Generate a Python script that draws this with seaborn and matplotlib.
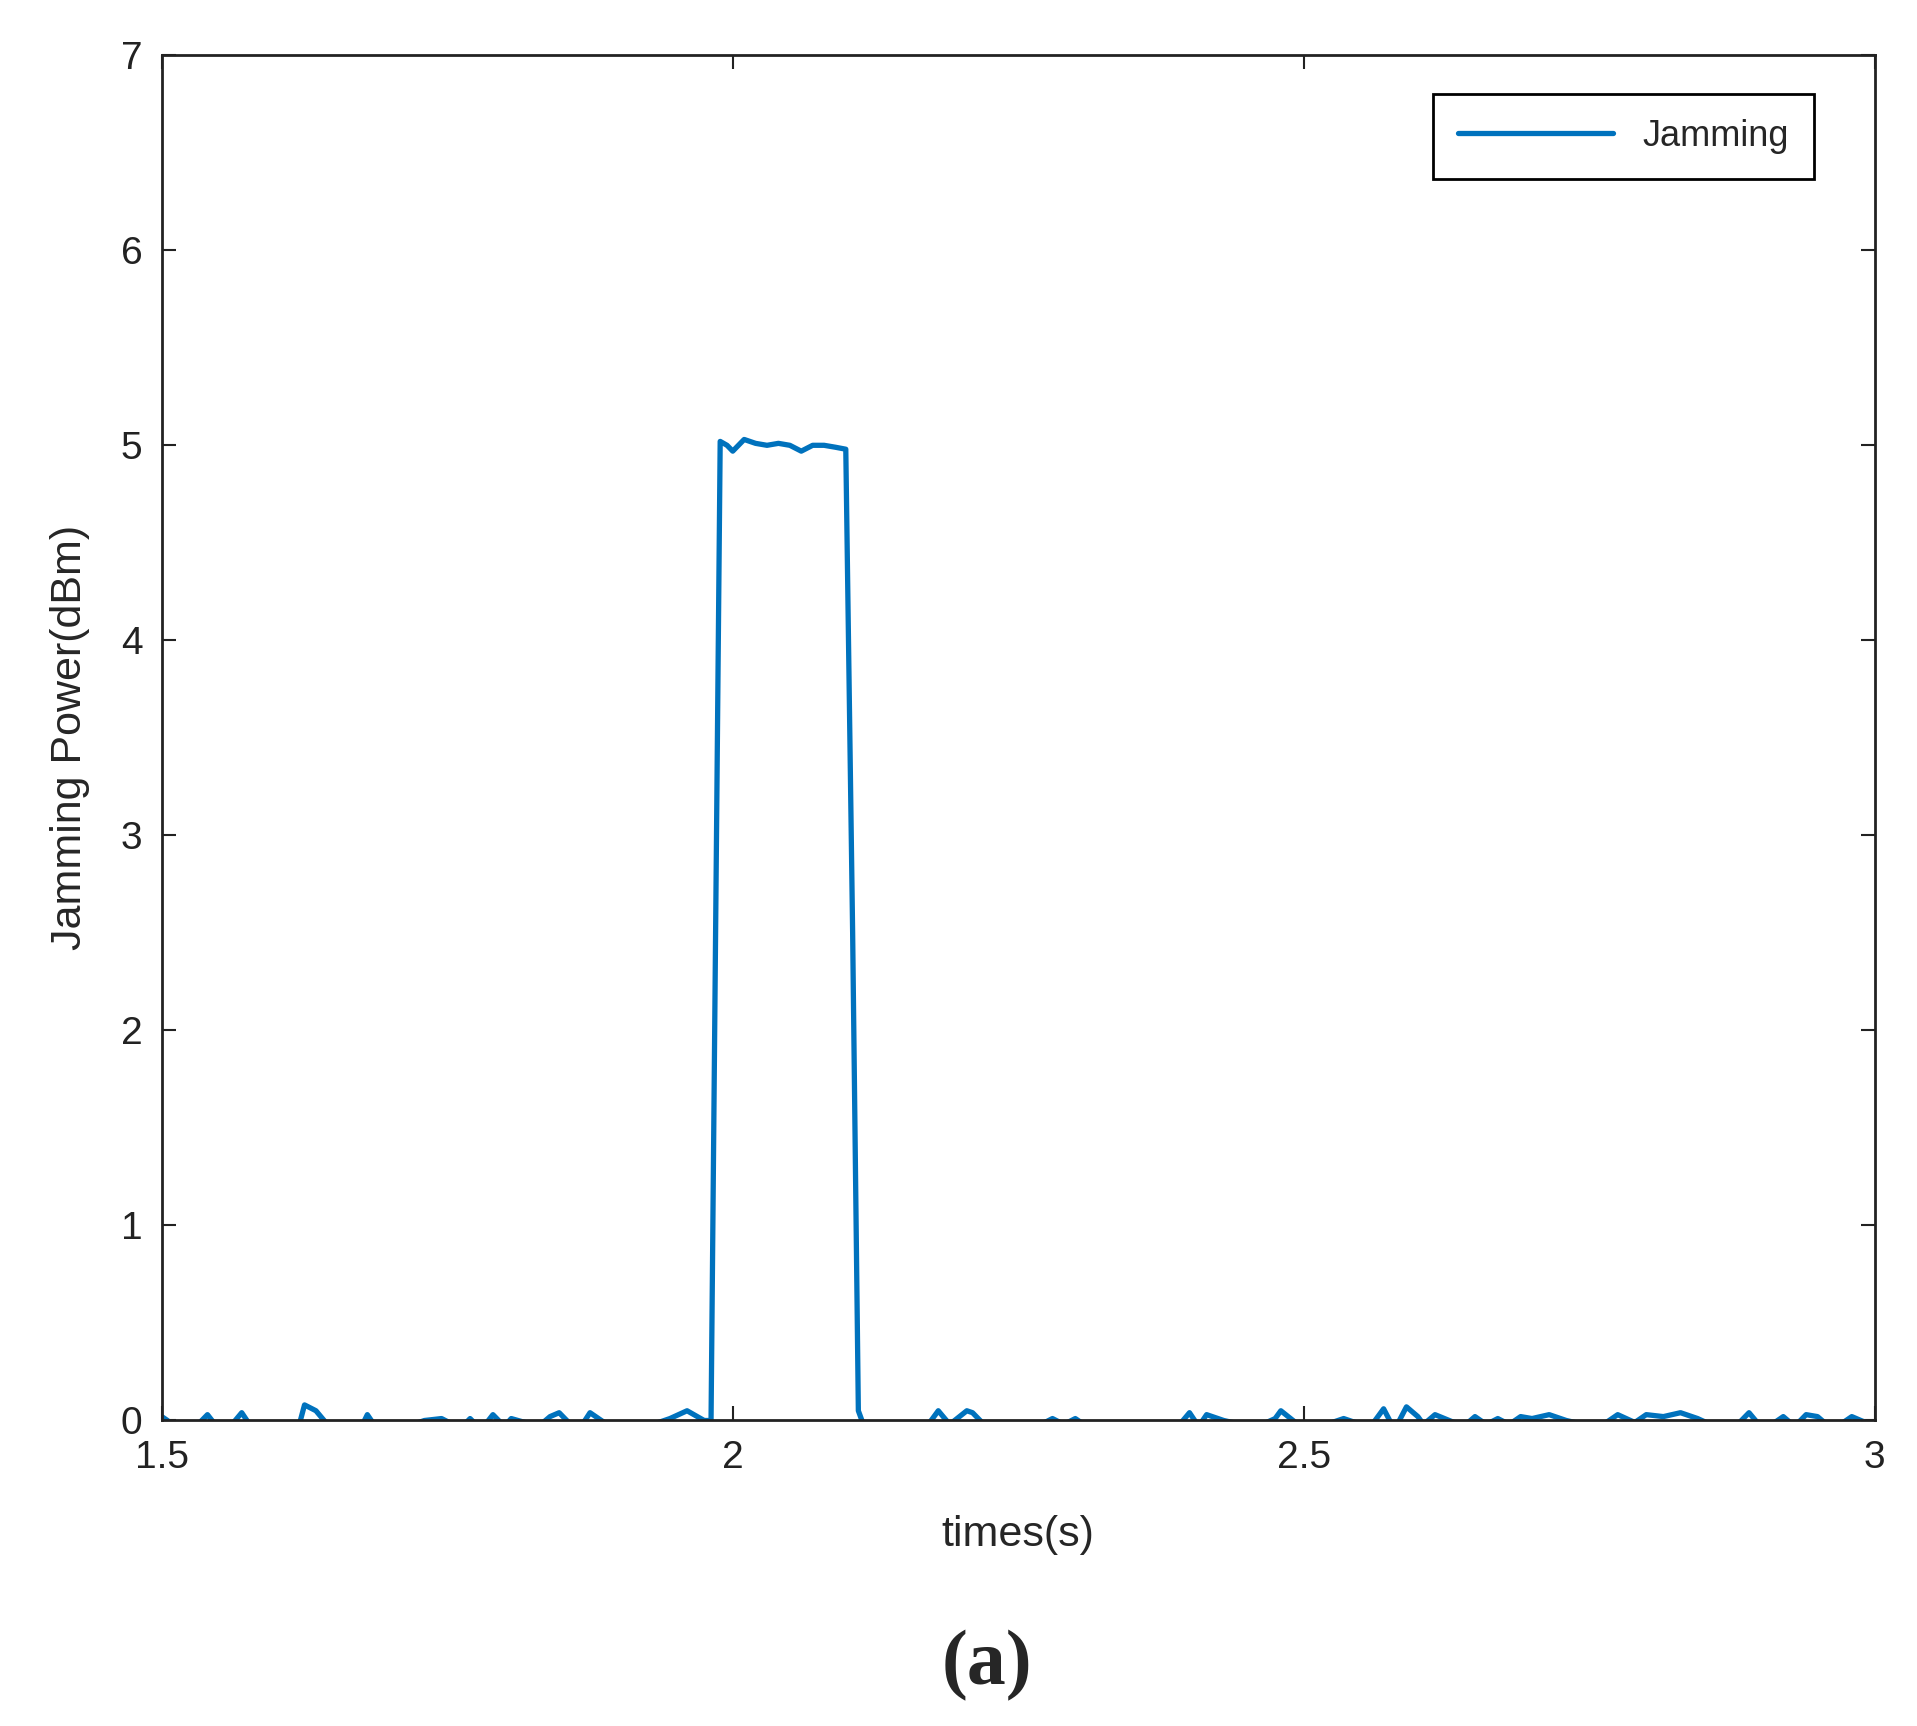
import matplotlib
matplotlib.use("Agg")
import matplotlib.pyplot as plt
import seaborn as sns
import pandas as pd

# breakpoints (negative values drop below the clipped axis)
times = [1.500, 1.505, 1.510, 1.530, 1.540, 1.548, 1.560, 1.570, 1.578, 1.600,
         1.620, 1.625, 1.635, 1.645, 1.660, 1.675, 1.680, 1.687, 1.720, 1.730,
         1.745, 1.755, 1.765, 1.770, 1.775, 1.782, 1.790, 1.800, 1.806, 1.830,
         1.840, 1.848, 1.858, 1.865, 1.875, 1.890, 1.930, 1.945, 1.960, 1.975,
         1.981, 1.989, 1.995, 2.000, 2.010, 2.020, 2.030, 2.040, 2.050, 2.060,
         2.070, 2.080, 2.090, 2.099, 2.105, 2.110, 2.115, 2.170, 2.180, 2.190,
         2.205, 2.210, 2.220, 2.230, 2.270, 2.280, 2.290, 2.300, 2.310, 2.390,
         2.400, 2.408, 2.415, 2.420, 2.430, 2.445, 2.460, 2.475, 2.480, 2.495,
         2.520, 2.535, 2.550, 2.560, 2.570, 2.578, 2.582, 2.590, 2.600, 2.605,
         2.615, 2.640, 2.650, 2.660, 2.670, 2.680, 2.690, 2.700, 2.715, 2.730,
         2.745, 2.760, 2.775, 2.790, 2.800, 2.815, 2.830, 2.845, 2.860, 2.880,
         2.890, 2.900, 2.910, 2.920, 2.930, 2.940, 2.950, 2.960, 2.970, 2.980,
         3.000]
power = [0.02, 0.00, -0.03, -0.03, 0.03, -0.03, -0.03, 0.04, -0.03, -0.05,
         -0.03, 0.08, 0.05, -0.02, -0.05, -0.03, 0.03, -0.03, -0.02, 0.00,
         0.01, -0.02, -0.02, 0.01, -0.02, -0.03, 0.03, -0.03, 0.01, -0.03,
         0.02, 0.04, -0.02, -0.05, 0.04, -0.02, -0.02, 0.01, 0.05, 0.00,
         0.00, 5.02, 5.00, 4.97, 5.03, 5.01, 5.00, 5.01, 5.00, 4.97,
         5.00, 5.00, 4.99, 4.98, 2.50, 0.05, -0.03, -0.03, 0.05, -0.02,
         0.05, 0.04, -0.02, -0.05, -0.02, 0.01, -0.02, 0.01, -0.03, -0.03,
         0.04, -0.03, 0.03, 0.02, 0.00, -0.02, -0.03, 0.01, 0.05, -0.02,
         -0.02, 0.01, -0.02, -0.02, 0.06, -0.03, -0.02, 0.07, 0.02, -0.02,
         0.03, -0.03, 0.02, -0.02, 0.01, -0.02, 0.02, 0.01, 0.03, 0.00,
         -0.02, -0.03, 0.03, -0.01, 0.03, 0.02, 0.04, 0.01, -0.03, -0.02,
         0.04, -0.03, -0.02, 0.02, -0.03, 0.03, 0.02, -0.03, -0.02, 0.02,
         -0.03]

df = pd.DataFrame({"time": times, "power": power})

sns.set_style("ticks")
plt.rcParams['font.family'] = ['Liberation Sans', 'DejaVu Sans']

fig = plt.figure(figsize=(19.17, 17.26), dpi=100)
ax = fig.add_axes([0.0844, 0.177, 0.8935, 0.791])
sns.lineplot(data=df, x="time", y="power", ax=ax, color="#0072BD", linewidth=3.8,
             label="Jamming", estimator=None, sort=False)

ax.set_xlim(1.5, 3)
ax.set_ylim(0, 7)
ax.set_xticks([1.5, 2, 2.5, 3])
ax.set_xticklabels(["1.5", "2", "2.5", "3"])
ax.set_yticks(range(8))
ax.tick_params(direction="in", length=10, width=1.5, labelsize=28, top=True, right=True,
               colors="#222222", pad=14)
for s in ax.spines.values():
    s.set_linewidth(2)
    s.set_color("#222222")
ax.set_xlabel("times(s)", fontsize=31, labelpad=28)
ax.set_ylabel("Jamming Power(dBm)", fontsize=31, labelpad=22)

leg = ax.legend(loc="upper right", bbox_to_anchor=(0.975, 0.985), fontsize=26,
                fancybox=False, edgecolor="black", framealpha=1, handlelength=4.3,
                borderpad=0.7)
leg.get_frame().set_linewidth(2)

fig.text(0.515, 0.035, "(a)", ha="center", va="center", fontsize=56,
         fontweight="bold", family="Liberation Serif")

fig.savefig("out.png", dpi=100)
